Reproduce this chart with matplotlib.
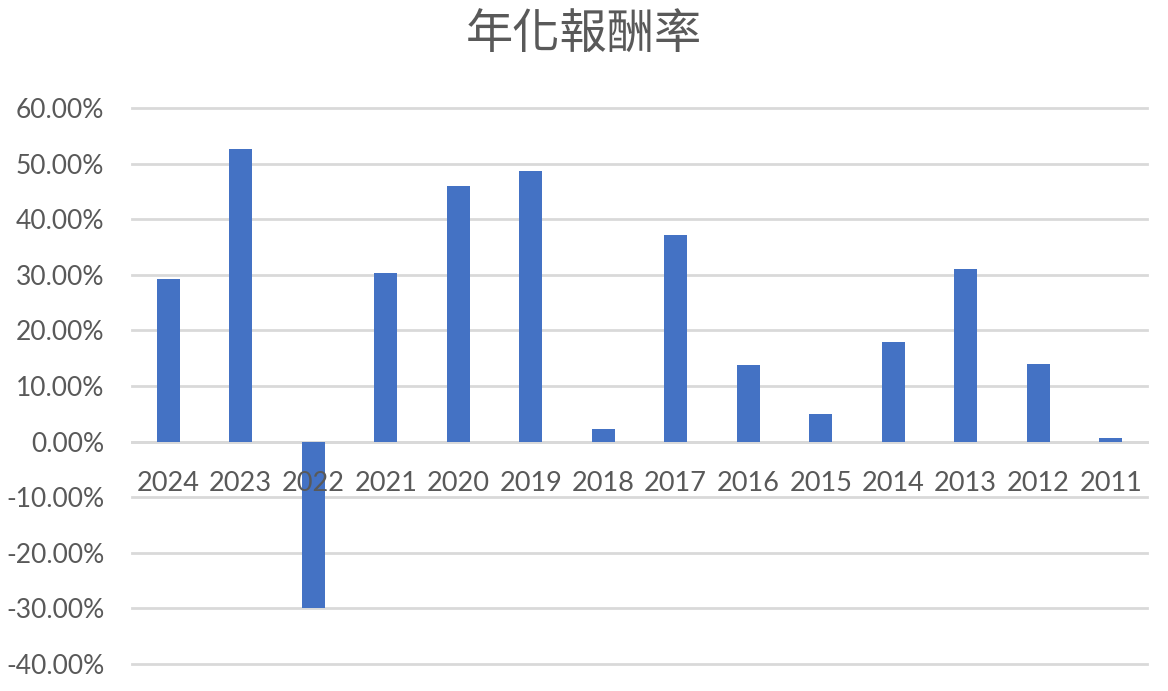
import matplotlib
matplotlib.use("Agg")
from matplotlib import pyplot as plt
from matplotlib.ticker import FuncFormatter
from matplotlib.transforms import offset_copy

# data (annual return, %)
years = ['2024', '2023', '2022', '2021', '2020', '2019', '2018',
         '2017', '2016', '2015', '2014', '2013', '2012', '2011']
returns = [29.2, 52.6, -29.9, 30.4, 45.9, 48.6, 2.3,
           37.1, 13.7, 5.0, 18.0, 31.0, 13.9, 0.7]
yticks = [-40, -30, -20, -10, 0, 10, 20, 30, 40, 50, 60]

barColor = '#4472C4'
gridColor = '#D9D9D9'
textColor = '#595959'

plt.rcParams['font.family'] = ['Lato', 'DejaVu Sans']

fig = plt.figure(figsize=(11.68, 6.91), dpi=100)
ax = fig.add_axes([0.113, 0.039, 0.869, 0.8047])

x = list(range(len(years)))
ax.bar(x, returns, width=0.32, color=barColor, zorder=3)

ax.set_ylim(-40, 60)
ax.set_xlim(-0.5, len(years) - 0.5)
ax.set_yticks(yticks)
ax.yaxis.set_major_formatter(FuncFormatter(lambda v, p: '{:.2f}%'.format(v)))
ax.grid(axis='y', color=gridColor, linewidth=2, zorder=0)
for gl in ax.yaxis.get_gridlines():
    gl.set_clip_on(False)
ax.tick_params(axis='y', length=0, pad=20, labelsize=19, labelcolor=textColor)

ax.spines['bottom'].set_position(('data', 0))
ax.spines['bottom'].set_color(gridColor)
ax.spines['bottom'].set_linewidth(2)
for s in ['top', 'right', 'left']:
    ax.spines[s].set_visible(False)
ax.set_xticks([])

# category labels just under the zero line, drawn over the bars (Excel style)
labelTrans = offset_copy(ax.transData, fig=fig, y=-42, units='dots')
for xi, yr in zip(x, years):
    ax.text(xi, 0, yr, transform=labelTrans, ha='center', va='center',
            fontsize=19.5, color=textColor, zorder=5)

fig.text(0.5, 0.948, '年化報酬率', ha='center', va='center', fontsize=34,
         color=textColor, family=['Noto Sans CJK TC', 'DejaVu Sans'], fontweight='light')

fig.savefig('out.png', dpi=100)
